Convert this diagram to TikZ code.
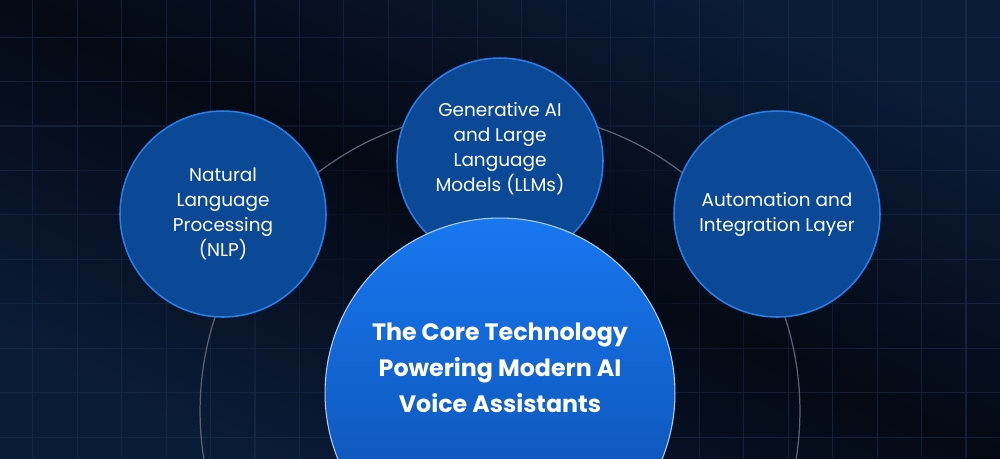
\documentclass[tikz,border=0pt]{standalone}
\usepackage{fontspec}
\setmainfont{Poppins}
\usetikzlibrary{
  shapes,
  calc,
  fadings,
  positioning
}
\definecolor{bgdark}{HTML}{040914}
\definecolor{bgblue}{HTML}{0B1C38}
\definecolor{gridblue}{HTML}{1C2F4D}
\definecolor{bubblefill}{HTML}{0B4896}
\definecolor{bubbleedge}{HTML}{2A7DE6}
\definecolor{coretop}{HTML}{1877F0}
\definecolor{corebottom}{HTML}{0B4CA8}
\definecolor{ringgrey}{HTML}{5B6272}
\tikzfading[name=cornerfade, inner color=transparent!100, outer color=transparent!40]

\begin{document}
\begin{tikzpicture}[x=0.02cm, y=-0.02cm,
    gridline/.style = {draw=gridblue, line width=0.6pt},
    ring/.style = {draw=ringgrey, line width=0.7pt},
    bubble/.style = {circle, fill=bubblefill, draw=bubbleedge, line width=0.9pt,
      minimum size=4.12cm, inner sep=0pt, text=white, align=center,
      font=\fontsize{10.5}{14.2}\selectfont},
    bubbletext/.style = {text=white, align=center, inner sep=0pt,
      font=\fontsize{10.5}{14.2}\selectfont},
    core/.style = {circle, top color=coretop, bottom color=corebottom,
      draw=white!65!coretop, line width=0.6pt, minimum size=7cm, inner sep=0pt},
    coretext/.style = {text=white, align=center, inner sep=0pt,
      font=\fontsize{13.5}{20.5}\selectfont\bfseries}
  ]
    \clip (0,0) rectangle (1000,458);
    % background and grid
    \shade[left color=bgblue, right color=bgblue, middle color=bgdark, shading angle=-25]
      (0,0) rectangle (1000,458);
    \draw[gridline, path fading=cornerfade, fit fading=true]
      \foreach \i in {-1,...,21} {({33+44.45*\i},0) -- ++(0,458)}
      \foreach \j in {-1,...,9} {(0,{37+44.45*\j}) -- ++(1000,0)};

    \coordinate (hub) at (500,411);
    \draw[ring] (hub) circle (6cm);

    \node[bubble] (nlp) at (223,214) {Natural\\Language\\Processing\\(NLP)};
    \node[bubble] (gen) at (500,161) {};
    \node[bubbletext] (gentext) at ($(gen)+(0,-12)$) {Generative AI\\and Large\\Language\\Models (LLMs)};
    \node[bubble] (auto) at (777,214) {Automation and\\Integration Layer};

    \node[core] (core) at (500,393) {};
    \node[coretext] (coretitle) at ($(core)+(0,-25)$) {The Core Technology\\Powering Modern AI\\Voice Assistants};
\end{tikzpicture}
\end{document}
